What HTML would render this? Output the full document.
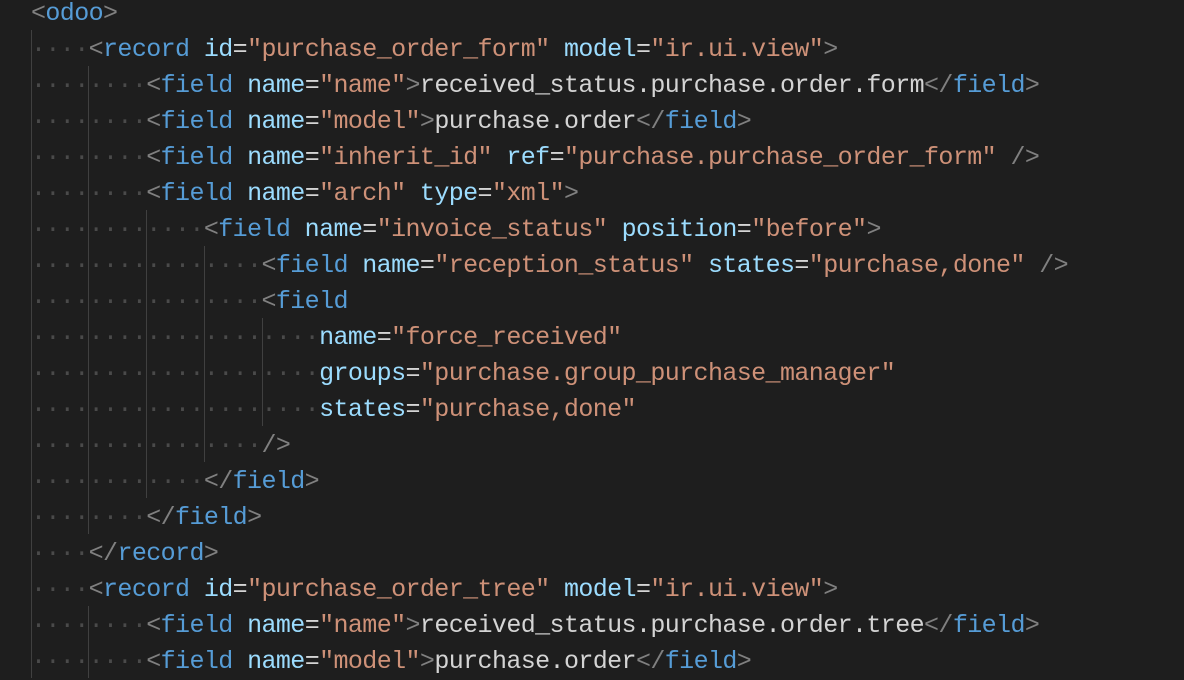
<!DOCTYPE html>
<html><head><meta charset="utf-8"><style>
html,body{margin:0;padding:0;background:#1e1e1e;width:1184px;height:678px;overflow:hidden}
.l{position:absolute;left:31px;height:36px;line-height:36px;font-family:"Liberation Mono",monospace;font-size:25px;letter-spacing:-0.6px;white-space:pre;color:#d4d4d4;margin-top:2px}
.d{color:#4a4a4a}.p{color:#808080}.t{color:#569cd6}.a{color:#9cdcfe}.s{color:#ce9178}
.g{position:absolute;width:1px;background:#404040}
</style></head><body>
<div class="g" style="left:31px;top:30px;height:648px"></div>
<div class="g" style="left:88px;top:66px;height:468px"></div>
<div class="g" style="left:88px;top:606px;height:72px"></div>
<div class="g" style="left:146px;top:210px;height:288px"></div>
<div class="g" style="left:204px;top:246px;height:216px"></div>
<div class="g" style="left:262px;top:318px;height:108px"></div>

<div class="l" style="top:-6px"><span class="p">&lt;</span><span class="t">odoo</span><span class="p">&gt;</span></div>
<div class="l" style="top:30px"><span class="d">····</span><span class="p">&lt;</span><span class="t">record</span> <span class="a">id</span>=<span class="s">"purchase_order_form"</span> <span class="a">model</span>=<span class="s">"ir.ui.view"</span><span class="p">&gt;</span></div>
<div class="l" style="top:66px"><span class="d">········</span><span class="p">&lt;</span><span class="t">field</span> <span class="a">name</span>=<span class="s">"name"</span><span class="p">&gt;</span>received_status.purchase.order.form<span class="p">&lt;/</span><span class="t">field</span><span class="p">&gt;</span></div>
<div class="l" style="top:102px"><span class="d">········</span><span class="p">&lt;</span><span class="t">field</span> <span class="a">name</span>=<span class="s">"model"</span><span class="p">&gt;</span>purchase.order<span class="p">&lt;/</span><span class="t">field</span><span class="p">&gt;</span></div>
<div class="l" style="top:138px"><span class="d">········</span><span class="p">&lt;</span><span class="t">field</span> <span class="a">name</span>=<span class="s">"inherit_id"</span> <span class="a">ref</span>=<span class="s">"purchase.purchase_order_form"</span> <span class="p">/&gt;</span></div>
<div class="l" style="top:174px"><span class="d">········</span><span class="p">&lt;</span><span class="t">field</span> <span class="a">name</span>=<span class="s">"arch"</span> <span class="a">type</span>=<span class="s">"xml"</span><span class="p">&gt;</span></div>
<div class="l" style="top:210px"><span class="d">············</span><span class="p">&lt;</span><span class="t">field</span> <span class="a">name</span>=<span class="s">"invoice_status"</span> <span class="a">position</span>=<span class="s">"before"</span><span class="p">&gt;</span></div>
<div class="l" style="top:246px"><span class="d">················</span><span class="p">&lt;</span><span class="t">field</span> <span class="a">name</span>=<span class="s">"reception_status"</span> <span class="a">states</span>=<span class="s">"purchase,done"</span> <span class="p">/&gt;</span></div>
<div class="l" style="top:282px"><span class="d">················</span><span class="p">&lt;</span><span class="t">field</span></div>
<div class="l" style="top:318px"><span class="d">····················</span><span class="a">name</span>=<span class="s">"force_received"</span></div>
<div class="l" style="top:354px"><span class="d">····················</span><span class="a">groups</span>=<span class="s">"purchase.group_purchase_manager"</span></div>
<div class="l" style="top:390px"><span class="d">····················</span><span class="a">states</span>=<span class="s">"purchase,done"</span></div>
<div class="l" style="top:426px"><span class="d">················</span><span class="p">/&gt;</span></div>
<div class="l" style="top:462px"><span class="d">············</span><span class="p">&lt;/</span><span class="t">field</span><span class="p">&gt;</span></div>
<div class="l" style="top:498px"><span class="d">········</span><span class="p">&lt;/</span><span class="t">field</span><span class="p">&gt;</span></div>
<div class="l" style="top:534px"><span class="d">····</span><span class="p">&lt;/</span><span class="t">record</span><span class="p">&gt;</span></div>
<div class="l" style="top:570px"><span class="d">····</span><span class="p">&lt;</span><span class="t">record</span> <span class="a">id</span>=<span class="s">"purchase_order_tree"</span> <span class="a">model</span>=<span class="s">"ir.ui.view"</span><span class="p">&gt;</span></div>
<div class="l" style="top:606px"><span class="d">········</span><span class="p">&lt;</span><span class="t">field</span> <span class="a">name</span>=<span class="s">"name"</span><span class="p">&gt;</span>received_status.purchase.order.tree<span class="p">&lt;/</span><span class="t">field</span><span class="p">&gt;</span></div>
<div class="l" style="top:642px"><span class="d">········</span><span class="p">&lt;</span><span class="t">field</span> <span class="a">name</span>=<span class="s">"model"</span><span class="p">&gt;</span>purchase.order<span class="p">&lt;/</span><span class="t">field</span><span class="p">&gt;</span></div>
</body></html>
